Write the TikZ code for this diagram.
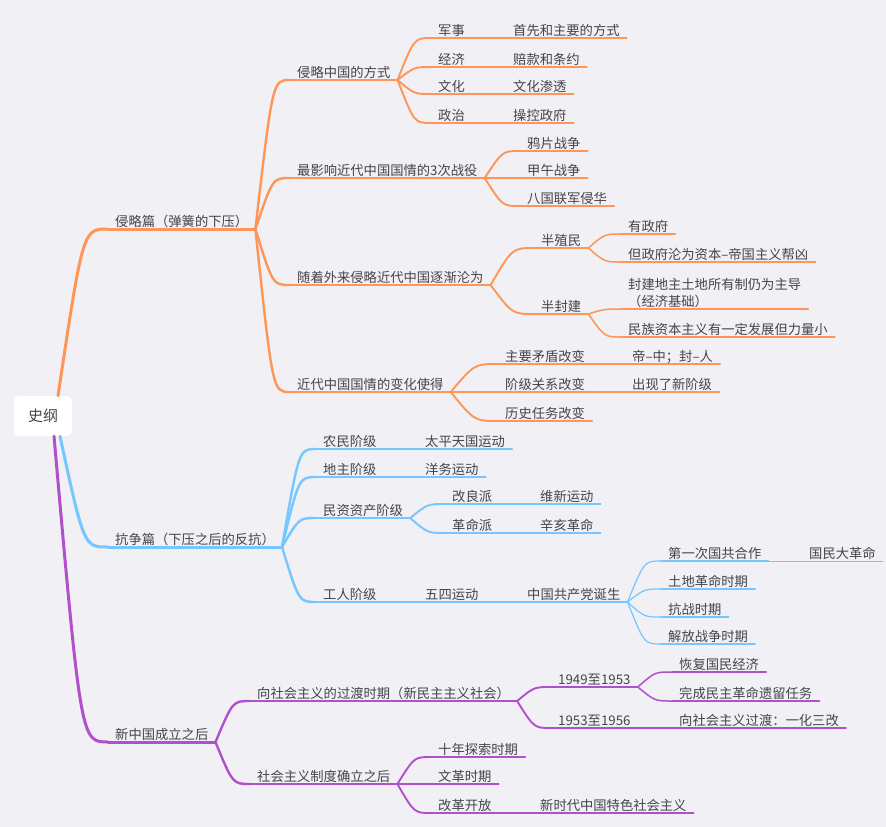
\documentclass[tikz,border=0pt]{standalone}
\usepackage{fontspec}
\usepackage{tikz}
\usetikzlibrary{calc}
\newfontfamily\cjk{Noto Sans CJK SC}
\definecolor{mmbg}{RGB}{240,240,245}
\definecolor{mmtext}{RGB}{68,68,74}
\definecolor{mmorange}{RGB}{255,150,88}
\definecolor{mmblue}{RGB}{118,198,255}
\definecolor{mmpurple}{RGB}{178,80,204}
\newcommand{\mmcurve}[3]{\draw[#1] (#2) .. controls ($(#2 |- #3)!0.5!(#3)$) .. (#3);}
\newcommand{\mmlink}[3]{\mmcurve{#1}{#2.south east}{#3.south west}}

\begin{document}
\begin{tikzpicture}[x=1pt,y=-1pt,
  topic/.style 2 args={anchor=south west,inner xsep=7pt,inner ysep=1pt,text depth=1.5pt,
    font=\cjk\fontsize{13.3}{17}\selectfont,text=mmtext,align=left,
    append after command={(\tikzlastnode.south west) edge[draw=#1,line width=#2,line cap=round] (\tikzlastnode.south east)}},
  otopic/.style={topic={mmorange}{#1}},
  btopic/.style={topic={mmblue}{#1}},
  ptopic/.style={topic={mmpurple}{#1}},
  olink/.style={draw=mmorange,line width=#1,line cap=round},
  blink/.style={draw=mmblue,line width=#1,line cap=round},
  plink/.style={draw=mmpurple,line width=#1,line cap=round},
  rootbox/.style={fill=white,rounded corners=5pt,minimum width=58pt,minimum height=40pt,
    font=\cjk\fontsize{15}{18}\selectfont,text=mmtext}]
\fill[mmbg] (0,0) rectangle (886,827);
\useasboundingbox (0,0) rectangle (886,827);

\node[rootbox] (root) at (43,416) {史纲};
\coordinate (rto) at ([xshift=15pt]root.north);
\coordinate (rtb) at ([xshift=17pt]root.south);
\coordinate (rtp) at ([xshift=11pt]root.south);

% 侵略篇
\node[otopic=3pt] (qlp) at (108,229) {侵略篇（弹簧的下压）};
\node[otopic=2.4pt] (fs) at (290,80) {侵略中国的方式};
\node[otopic=2.4pt] (zy) at (290,178) {最影响近代中国国情的3次战役};
\node[otopic=2.4pt] (ls) at (290,285) {随着外来侵略近代中国逐渐沦为};
\node[otopic=2.4pt] (bh) at (290,392) {近代中国国情的变化使得};
\node[otopic=1.9pt] (js) at (431,38) {军事}; \node[otopic=1.5pt] (jsl) at (506,38) {首先和主要的方式};
\node[otopic=1.9pt] (jj) at (431,67) {经济}; \node[otopic=1.5pt] (jjl) at (506,67) {赔款和条约};
\node[otopic=1.9pt] (wh) at (431,94) {文化}; \node[otopic=1.5pt] (whl) at (506,94) {文化渗透};
\node[otopic=1.9pt] (zz) at (431,123) {政治}; \node[otopic=1.5pt] (zzl) at (506,123) {操控政府};
\node[otopic=1.9pt] (yp) at (520,151) {鸦片战争};
\node[otopic=1.9pt] (jw) at (520,178) {甲午战争};
\node[otopic=1.9pt] (bg) at (520,206) {八国联军侵华};
\node[otopic=1.9pt] (bzm) at (534,248) {半殖民};
\node[otopic=1.9pt] (bfj) at (534,314) {半封建};
\node[otopic=1.5pt] (yzf) at (621,234) {有政府};
\node[otopic=1.5pt] (dzf) at (621,262) {但政府沦为资本–帝国主义帮凶};
\node[otopic=1.5pt] (fjdz) at (621,309) {封建地主土地所有制仍为主导\\（经济基础）};
\node[otopic=1.5pt] (mzzb) at (621,337) {民族资本主义有一定发展但力量小};
\node[otopic=1.9pt] (zymd) at (498,364) {主要矛盾改变}; \node[otopic=1.5pt] (dzfr) at (625,364) {帝–中；封–人};
\node[otopic=1.9pt] (jjgx) at (498,392) {阶级关系改变}; \node[otopic=1.5pt] (cxjj) at (625,392) {出现了新阶级};
\node[otopic=1.9pt] (lsrw) at (498,421) {历史任务改变};

\mmcurve{olink=3pt}{rto}{qlp.south west}
\mmlink{olink=2.4pt}{qlp}{fs} \mmlink{olink=2.4pt}{qlp}{zy}
\mmlink{olink=2.4pt}{qlp}{ls} \mmlink{olink=2.4pt}{qlp}{bh}
\mmlink{olink=1.9pt}{fs}{js} \mmlink{olink=1.9pt}{fs}{jj} \mmlink{olink=1.9pt}{fs}{wh} \mmlink{olink=1.9pt}{fs}{zz}
\mmlink{olink=1.5pt}{js}{jsl} \mmlink{olink=1.5pt}{jj}{jjl} \mmlink{olink=1.5pt}{wh}{whl} \mmlink{olink=1.5pt}{zz}{zzl}
\mmlink{olink=1.9pt}{zy}{yp} \mmlink{olink=1.9pt}{zy}{jw} \mmlink{olink=1.9pt}{zy}{bg}
\mmlink{olink=1.9pt}{ls}{bzm} \mmlink{olink=1.9pt}{ls}{bfj}
\mmlink{olink=1.5pt}{bzm}{yzf} \mmlink{olink=1.5pt}{bzm}{dzf}
\mmlink{olink=1.5pt}{bfj}{fjdz} \mmlink{olink=1.5pt}{bfj}{mzzb}
\mmlink{olink=1.9pt}{bh}{zymd} \mmlink{olink=1.9pt}{bh}{jjgx} \mmlink{olink=1.9pt}{bh}{lsrw}
\mmlink{olink=1.5pt}{zymd}{dzfr} \mmlink{olink=1.5pt}{jjgx}{cxjj}

% 抗争篇
\node[btopic=3pt] (kzp) at (108,547) {抗争篇（下压之后的反抗）};
\node[btopic=2.4pt] (nm) at (316,449) {农民阶级}; \node[btopic=1.9pt] (tp) at (418,449) {太平天国运动};
\node[btopic=2.4pt] (dzjj) at (316,477) {地主阶级}; \node[btopic=1.9pt] (yw) at (418,477) {洋务运动};
\node[btopic=2.4pt] (mzjj) at (316,518) {民资资产阶级};
\node[btopic=1.9pt] (gl) at (445,504) {改良派}; \node[btopic=1.5pt] (wx) at (533,504) {维新运动};
\node[btopic=1.9pt] (gmp) at (445,533) {革命派}; \node[btopic=1.5pt] (xh) at (533,533) {辛亥革命};
\node[btopic=2.4pt] (gr) at (316,602) {工人阶级}; \node[btopic=1.9pt] (ws) at (418,602) {五四运动};
\node[btopic=1.5pt] (gcd) at (520,602) {中国共产党诞生};
\node[btopic=1.2pt] (dyc) at (661,561) {第一次国共合作}; \node[btopic=1pt] (gmdgm) at (802,561) {国民大革命};
\node[btopic=1.2pt] (tdgm) at (661,589) {土地革命时期};
\node[btopic=1.2pt] (kzsq) at (661,617) {抗战时期};
\node[btopic=1.2pt] (jfzz) at (661,644) {解放战争时期};

\mmcurve{blink=3pt}{rtb}{kzp.south west}
\mmlink{blink=2.4pt}{kzp}{nm} \mmlink{blink=2.4pt}{kzp}{dzjj} \mmlink{blink=2.4pt}{kzp}{mzjj} \mmlink{blink=2.4pt}{kzp}{gr}
\mmlink{blink=1.9pt}{nm}{tp} \mmlink{blink=1.9pt}{dzjj}{yw}
\mmlink{blink=1.9pt}{mzjj}{gl} \mmlink{blink=1.9pt}{mzjj}{gmp}
\mmlink{blink=1.5pt}{gl}{wx} \mmlink{blink=1.5pt}{gmp}{xh}
\mmlink{blink=1.9pt}{gr}{ws} \mmlink{blink=1.5pt}{ws}{gcd}
\mmlink{blink=1.2pt}{gcd}{dyc} \mmlink{blink=1.2pt}{gcd}{tdgm} \mmlink{blink=1.2pt}{gcd}{kzsq} \mmlink{blink=1.2pt}{gcd}{jfzz}
\mmlink{blink=1pt}{dyc}{gmdgm}

% 新中国
\node[ptopic=3pt] (xzg) at (108,742) {新中国成立之后};
\node[ptopic=2.4pt] (gd) at (250,701) {向社会主义的过渡时期（新民主主义社会）};
\node[ptopic=2.4pt] (zd) at (250,784) {社会主义制度确立之后};
\node[ptopic=1.9pt] (y49) at (551,687) {1949至1953};
\node[ptopic=1.5pt] (hf) at (672,672) {恢复国民经济};
\node[ptopic=1.5pt] (wc) at (672,701) {完成民主革命遗留任务};
\node[ptopic=1.9pt] (y53) at (551,728) {1953至1956}; \node[ptopic=1.5pt] (gdsh) at (672,728) {向社会主义过渡：一化三改};
\node[ptopic=1.9pt] (sn) at (431,757) {十年探索时期};
\node[ptopic=1.9pt] (wg) at (431,784) {文革时期};
\node[ptopic=1.9pt] (gk) at (431,813) {改革开放}; \node[ptopic=1.5pt] (xsd) at (533,813) {新时代中国特色社会主义};

\mmcurve{plink=3pt}{rtp}{xzg.south west}
\mmlink{plink=2.4pt}{xzg}{gd} \mmlink{plink=2.4pt}{xzg}{zd}
\mmlink{plink=1.9pt}{gd}{y49} \mmlink{plink=1.9pt}{gd}{y53}
\mmlink{plink=1.5pt}{y49}{hf} \mmlink{plink=1.5pt}{y49}{wc} \mmlink{plink=1.5pt}{y53}{gdsh}
\mmlink{plink=1.9pt}{zd}{sn} \mmlink{plink=1.9pt}{zd}{wg} \mmlink{plink=1.9pt}{zd}{gk}
\mmlink{plink=1.5pt}{gk}{xsd}
\end{tikzpicture}
\end{document}
